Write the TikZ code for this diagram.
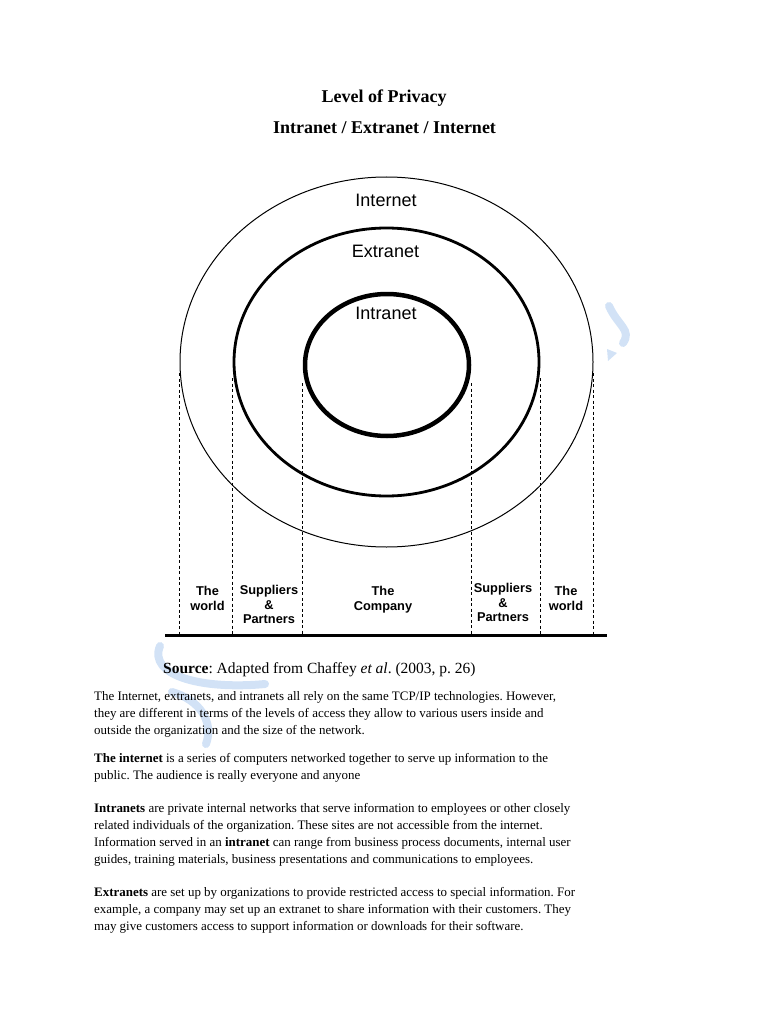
\documentclass[tikz,border=0pt]{standalone}
\usepackage{fontspec}
\setmainfont{Liberation Serif}
\setsansfont{Liberation Sans}
\usetikzlibrary{shapes.geometric}
\frenchspacing
\definecolor{wmblue}{RGB}{210,226,246}
\tikzset{
  ring/.style={draw,ellipse,inner sep=0pt},
  ringlabel/.style={font=\sffamily\fontsize{18}{20}\selectfont,anchor=base},
  zone/.style={font=\sffamily\bfseries\fontsize{12.8}{14.6}\selectfont,align=center,anchor=north,inner sep=0pt},
  divider/.style={dash pattern=on 3pt off 2.5pt,line width=0.8pt},
  para/.style={font=\fontsize{12.95}{17}\selectfont,align=left,anchor=base west,inner sep=0pt},
  heading/.style={font=\bfseries\fontsize{18}{20}\selectfont,anchor=base,inner sep=0pt},
  wmark/.style={draw=wmblue,line width=8pt,line cap=round}
}

\begin{document}
\begin{tikzpicture}[x=1pt,y=-1pt]
  \useasboundingbox (0,0) rectangle (768,1024);
  % watermark
  \draw[wmark] (609,306) .. controls (618,326) and (632,330) .. (623,343);
  \fill[wmblue] (607,349) -- (617,353) -- (608,361) -- cycle;
  \draw[wmark] (160,646) .. controls (148,675) and (200,690) .. (265,684);
  \draw[wmark] (172,692) .. controls (200,700) and (214,722) .. (206,744);
  % titles
  \node[heading] (title) at (384,103) {Level of Privacy};
  \node[heading] (subtitle) at (384.5,134) {Intranet / Extranet / Internet};
  % rings
  \node[ring,line width=1pt,minimum width=413pt,minimum height=370pt] (outer) at (386.5,362) {};
  \node[ring,line width=2.8pt,minimum width=305pt,minimum height=268pt] (middle) at (386.5,362) {};
  \node[ring,line width=4.5pt,minimum width=164pt,minimum height=142pt] (inner) at (387,365) {};
  % ring labels
  \node[ringlabel] (internet) at (386,207) {Internet};
  \node[ringlabel] (extranet) at (385.5,258) {Extranet};
  \node[ringlabel] (intranet) at (386,319) {Intranet};
  % base line and dividers
  \coordinate (ruleL) at (165,635);
  \coordinate (ruleR) at (607,635);
  \foreach \r/\d in {outer/11,middle/16,inner/18} {
    \draw[divider] ([yshift=-\d pt]\r.west) -- (\r.west |- ruleL);
    \draw[divider] ([yshift=-\d pt]\r.east) -- (\r.east |- ruleL);
  }
  \draw[line width=3pt] (ruleL) -- (ruleR);
  % zone labels
  \node[zone] (worldL) at (207.5,586) {The\\world};
  \node[zone] (suppL) at (269,585) {Suppliers\\\&\\Partners};
  \node[zone] (company) at (383,586) {The\\Company};
  \node[zone] (suppR) at (503,583) {Suppliers\\\&\\Partners};
  \node[zone] (worldR) at (566,586) {The\\world};
  % source and text (anchored at last line)
  \node[para,font=\fontsize{15.5}{18}\selectfont] (source) at (163,673) {\textbf{Source}: Adapted from Chaffey \textit{et al}. (2003, p. 26)};
  \node[para] (p1) at (94,734) {The Internet, extranets, and intranets all rely on the same TCP/IP technologies. However,\\
    they are different in terms of the levels of access they allow to various users inside and\\
    outside the organization and the size of the network.};
  \node[para] (p2) at (94,779) {\textbf{The internet} is a series of computers networked together to serve up information to the\\
    public. The audience is really everyone and anyone};
  \node[para] (p3) at (94,863) {\textbf{Intranets} are private internal networks that serve information to employees or other closely\\
    related individuals of the organization. These sites are not accessible from the internet.\\
    Information served in an \textbf{intranet} can range from business process documents, internal user\\
    guides, training materials, business presentations and communications to employees.};
  \node[para] (p4) at (94,930) {\textbf{Extranets} are set up by organizations to provide restricted access to special information. For\\
    example, a company may set up an extranet to share information with their customers. They\\
    may give customers access to support information or downloads for their software.};
\end{tikzpicture}
\end{document}
